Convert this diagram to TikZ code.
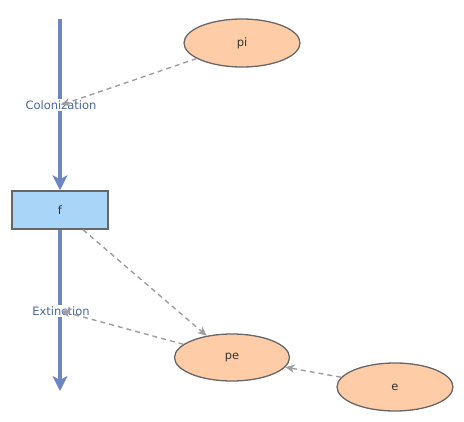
\documentclass[tikz,border=0pt]{standalone}
\usepackage{fontspec}
\setmainfont{DejaVu Sans}
\usetikzlibrary{arrows.meta,shapes.geometric}
\definecolor{flowblue}{HTML}{6C86C4}
\definecolor{boxfill}{HTML}{A9D5F9}
\definecolor{peach}{HTML}{FFCCA8}
\definecolor{edgegray}{HTML}{666666}
\definecolor{dashgray}{HTML}{9E9E9E}
\definecolor{labelblue}{HTML}{4A67A0}
\definecolor{textgray}{HTML}{333333}
\tikzset{
  flow/.style={draw=flowblue,line width=3.3pt,-{Stealth[length=15pt,width=15pt,inset=4pt]}},
  stock/.style={rectangle,draw=edgegray,fill=boxfill,line width=1.5pt,minimum width=96pt,minimum height=38pt,inner sep=0pt,font=\fontsize{11.5}{13}\selectfont,text=textgray},
  param/.style={ellipse,draw=edgegray,fill=peach,line width=1.3pt,minimum width=116pt,minimum height=48pt,inner sep=0pt,font=\fontsize{11.5}{13}\selectfont,text=textgray},
  ratelabel/.style={fill=white,inner sep=1.5pt,text=labelblue,font=\fontsize{11.5}{13}\selectfont},
  link/.style={draw=dashgray,line width=1.4pt,dash pattern=on 5pt off 4pt,-{Stealth[length=9pt,width=8pt,inset=2.5pt]}}
}
\begin{document}
\begin{tikzpicture}[x=1pt,y=-1pt]
\useasboundingbox (0,0) rectangle (464,422);
\coordinate (top) at (60,19);
\coordinate (bottom) at (60,391);
\node[stock] (f) at (60,210) {f};
\node[param] (pi) at (242,43) {pi};
\node[param,minimum width=115pt,minimum height=47pt] (pe) at (232,357.5) {pe};
\node[param] (e) at (395,387) {e};
\draw[flow] (top) -- (f.north);
\draw[flow] (f.south) -- (bottom);
\node[ratelabel] (colon) at (61,105) {Colonization};
\node[ratelabel] (ext) at (61,311) {Extinction};
\draw[link] (pi) -- (colon.center);
\draw[link] (f) -- (pe);
\draw[link] (pe) -- (ext.center);
\draw[link] (e) -- (pe);
\end{tikzpicture}
\end{document}
